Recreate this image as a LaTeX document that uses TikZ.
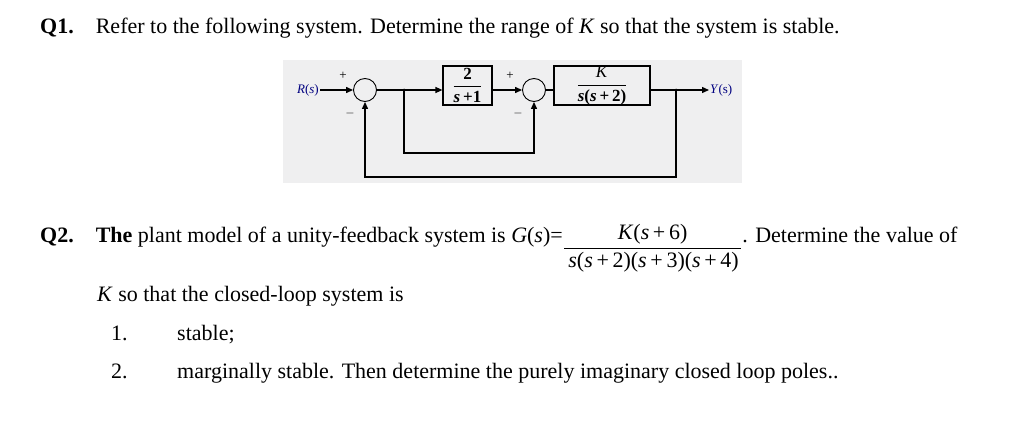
\documentclass[tikz,border=0pt]{standalone}
\usepackage{fontspec}
\setmainfont{Liberation Serif}
\usepackage{amsmath}
\usetikzlibrary{arrows.meta}
\newcommand{\ti}[1]{\textit{#1}}
\begin{document}
\begin{tikzpicture}[x=1pt,y=-1pt,
  txt/.style={anchor=base west,inner sep=0,font=\fontsize{22}{26}\selectfont},
  blk/.style={draw,line width=1.2pt,minimum width=#1,minimum height=39pt,inner sep=0,font=\fontsize{17}{19}\selectfont},
  sumj/.style={draw,circle,line width=0.9pt,minimum size=23pt,inner sep=0},
  sig/.style={line width=1.3pt},
  arr/.style={sig,-{Triangle[length=7pt,width=6pt]}},
  lab/.style={font=\fontsize{13}{15}\selectfont,inner sep=1pt}]
\useasboundingbox (0,0) rectangle (1024,434);
\fill[white] (0,0) rectangle (1024,434);
\fill[blue!4!gray!12] (283,60) rectangle (742,183);
\node[txt] (q1) at (40,33) {\textbf{Q1.}\hspace{22pt}Refer to the following system. Determine the range of \textit{K} so that the system is stable.};
% diagram
\node[sumj] (s1) at (365,90) {};
\node[sumj] (s2) at (534,90) {};
\node[blk=49pt] (b1) at (467.5,85.5) {$\dfrac{\text{\textbf{2}}}{\text{\textbf{\textit{s}\,+1}}}$};
\node[blk=96pt] (b2) at (602,85.5) {$\dfrac{\text{\ti{K}}}{\text{\textbf{\ti{s}(\ti{s}\,+\,2)}}}$};
\node[lab,anchor=east,text=blue!50!black] (r) at (320,90) {\ti{R}(\ti{s})};
\node[lab,anchor=west,text=blue!50!black] (y) at (709,90) {\ti{Y}(s)};
\coordinate (br1) at (404,90);
\coordinate (br2) at (676,90);
\draw[arr] (r.east) -- (s1.west);
\draw[sig] (s1.east) -- (br1);
\draw[arr] (br1) -- (b1.west |- br1);
\draw[arr] (b1.east |- br1) -- (s2.west);
\draw[sig] (s2.east) -- (b2.west |- br1);
\draw[sig] (b2.east |- br1) -- (br2);
\draw[arr] (br2) -- (y.west);
\fill (br1) circle (1.5pt); \fill (br2) circle (1.5pt);
\draw[arr] (br1) -- (404,153) -| (s2.south);
\draw[arr] (br2) -- (676,177) -| (s1.south);
\node[lab] (p1) at (343,76) {+};
\node[lab] (m1) at (350,113) {$-$};
\node[lab] (p2) at (510,76) {+};
\node[lab] (m2) at (518,113) {$-$};
% Q2
\node[txt] (q2) at (40,242) {\textbf{Q2.}\hspace{22pt}\textbf{The} plant model of a unity-feedback system is \textit{G}(\textit{s})=};
\node[txt,anchor=west] (frac) at ([yshift=-6pt]q2.base east) {$\dfrac{\text{\ti{K}(\ti{s}\,+\,6)}}{\hspace{4pt}\text{\ti{s}(\ti{s}\,+\,2)(\ti{s}\,+\,3)(\ti{s}\,+\,4)}\hspace{2pt}}$};
\node[txt] (q2b) at (frac.east |- q2.base) {. Determine the value of};
\node[txt] (k) at (97,301) {\textit{K} so that the closed-loop system is};
\node[txt] (n1) at (111,340) {1.};
\node[txt] (t1) at (177,340) {stable;};
\node[txt] (n2) at (111,378) {2.};
\node[txt] (t2) at (177,378) {marginally stable. Then determine the purely imaginary closed loop poles..};
\end{tikzpicture}
\end{document}
